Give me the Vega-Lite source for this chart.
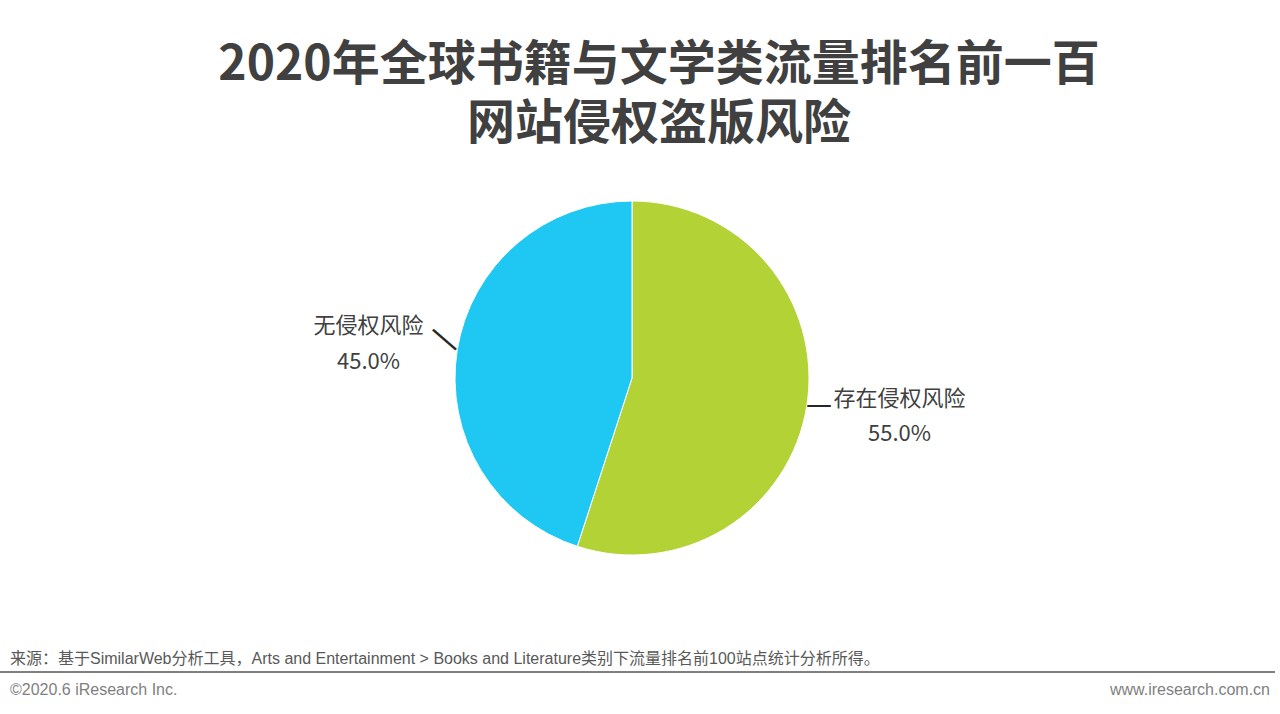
{
  "$schema": "https://vega.github.io/schema/vega-lite/v6.json",
  "width": 1264,
  "height": 436,
  "autosize": "none",
  "padding": {"top": 160, "left": 0, "right": 16, "bottom": 118},
  "background": "white",
  "config": {"view": {"stroke": null}},
  "title": {
    "text": ["2020年全球书籍与文学类流量排名前一百", "网站侵权盗版风险"],
    "font": "Noto Sans CJK SC",
    "fontSize": 48,
    "fontWeight": "bold",
    "color": "#404040",
    "lineHeight": 59,
    "anchor": "middle",
    "dx": 27,
    "offset": 11
  },
  "data": {
    "values": [
      {"cat": "存在侵权风险", "share": 0.55, "rank": 1},
      {"cat": "无侵权风险", "share": 0.45, "rank": 2}
    ]
  },
  "resolve": {"scale": {"theta": "independent"}},
  "layer": [
    {
      "mark": {"type": "arc", "outerRadius": 177, "stroke": "white", "strokeWidth": 1},
      "encoding": {
        "theta": {"field": "share", "type": "quantitative", "stack": true},
        "order": {"field": "rank", "type": "quantitative"},
        "color": {
          "field": "cat",
          "type": "nominal",
          "scale": {"domain": ["存在侵权风险", "无侵权风险"], "range": ["#b2d235", "#1fc8f2"]},
          "legend": null
        }
      }
    },
    {
      "mark": {"type": "text", "radius": 190, "font": "DejaVu Sans", "color": "#262626", "align": "center", "baseline": "middle"},
      "encoding": {
        "theta": {"field": "share", "type": "quantitative", "stack": true, "scale": {"range": [0.0175, 6.3007]}},
        "order": {"field": "rank", "type": "quantitative"},
        "text": {"value": "—"},
        "angle": {"condition": {"test": "datum.cat == '无侵权风险'", "value": 41}, "value": 0},
        "size": {"condition": {"test": "datum.cat == '无侵权风险'", "value": 34}, "value": 26},
        "yOffset": {"value": -6}
      }
    },
    {
      "mark": {"type": "text", "radius": 268, "dy": -17.5, "font": "Noto Sans CJK SC", "fontSize": 22, "color": "#404040", "align": "center", "baseline": "middle"},
      "encoding": {
        "theta": {"field": "share", "type": "quantitative", "stack": true, "scale": {"range": [-0.021, 6.2622]}},
        "order": {"field": "rank", "type": "quantitative"},
        "text": {"field": "cat", "type": "nominal"},
        "xOffset": {"value": 2},
        "yOffset": {"value": 2}
      }
    },
    {
      "mark": {"type": "text", "radius": 268, "dy": 18, "font": "Noto Sans CJK SC", "fontSize": 22, "color": "#404040", "align": "center", "baseline": "middle"},
      "encoding": {
        "theta": {"field": "share", "type": "quantitative", "stack": true, "scale": {"range": [-0.021, 6.2622]}},
        "order": {"field": "rank", "type": "quantitative"},
        "text": {"field": "share", "type": "quantitative", "format": ".1%"},
        "xOffset": {"value": 2},
        "yOffset": {"value": 2}
      }
    },
    {
      "data": {"values": [{"t": "来源：基于SimilarWeb分析工具，Arts and Entertainment > Books and Literature类别下流量排名前100站点统计分析所得。"}]},
      "mark": {"type": "text", "align": "left", "baseline": "middle", "font": "Liberation Sans, Noto Sans CJK SC", "fontSize": 16, "color": "#595959"},
      "encoding": {
        "text": {"field": "t", "type": "nominal"},
        "x": {"value": 10},
        "y": {"value": 499}
      }
    },
    {
      "data": {"values": [{"t": "line"}]},
      "mark": {"type": "rule", "color": "#808080", "strokeWidth": 2},
      "encoding": {
        "x": {"value": 0},
        "x2": {"value": 1275},
        "y": {"value": 512}
      }
    },
    {
      "data": {"values": [{"t": "©2020.6 iResearch Inc."}]},
      "mark": {"type": "text", "align": "left", "baseline": "middle", "font": "Liberation Sans", "fontSize": 16, "color": "#7f7f7f"},
      "encoding": {
        "text": {"field": "t", "type": "nominal"},
        "x": {"value": 10},
        "y": {"value": 530}
      }
    },
    {
      "data": {"values": [{"t": "www.iresearch.com.cn"}]},
      "mark": {"type": "text", "align": "right", "baseline": "middle", "font": "Liberation Sans", "fontSize": 16, "color": "#7f7f7f"},
      "encoding": {
        "text": {"field": "t", "type": "nominal"},
        "x": {"value": 1270},
        "y": {"value": 530}
      }
    }
  ]
}
